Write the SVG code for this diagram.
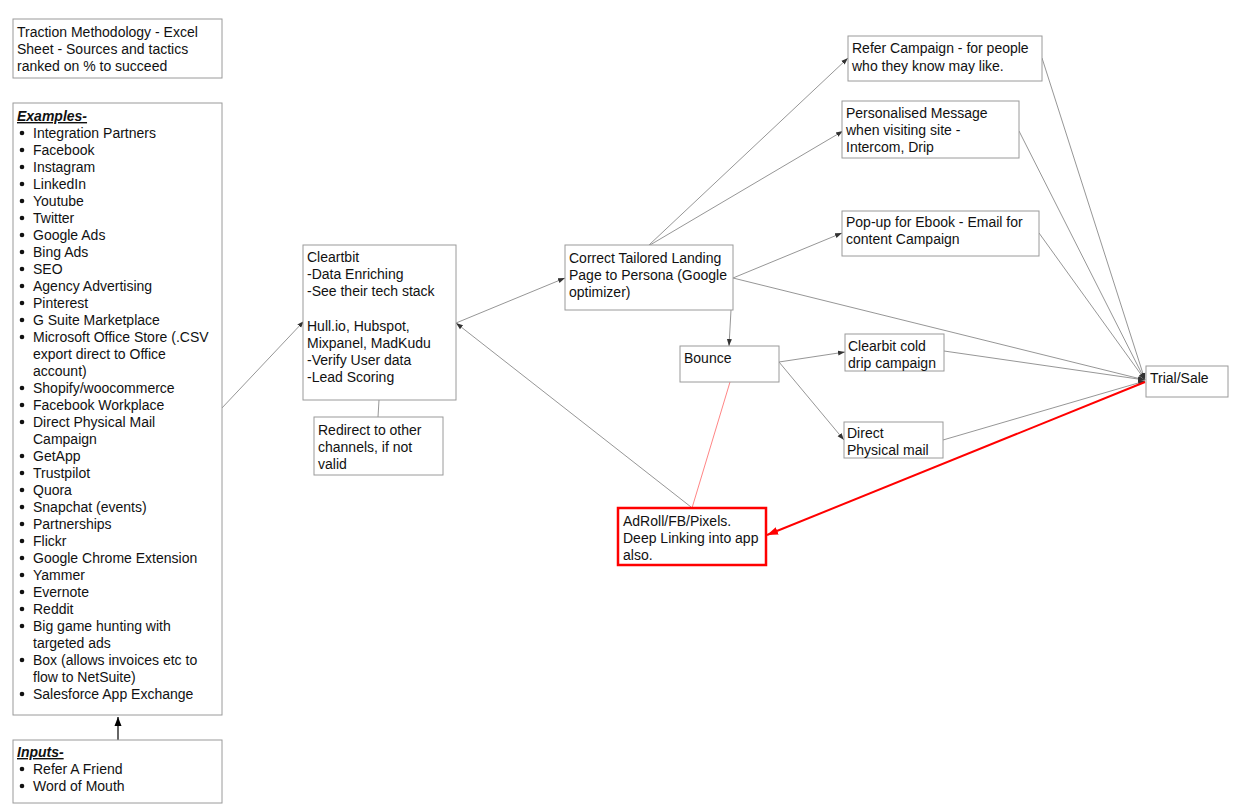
<svg xmlns="http://www.w3.org/2000/svg" width="1254" height="808" viewBox="0 0 1254 808">
<style>
.box{fill:#fff;stroke:#9a9a9a;stroke-width:1}
.red{fill:#fff;stroke:#f00;stroke-width:2.5}
text{font-family:"Liberation Sans",Arial,sans-serif;font-size:14px;fill:#111}
.hd{font-style:italic;font-weight:bold;text-decoration:underline}
.c{fill:none;stroke:#8a8a8a;stroke-width:0.9}
.cr{fill:none;stroke:#f00;stroke-width:2}
.crt{fill:none;stroke:#f77;stroke-width:0.9}
.b{fill:#111}
</style>
<defs>
<marker id="ah" markerUnits="userSpaceOnUse" markerWidth="8" markerHeight="8" viewBox="0 0 8 8" refX="7" refY="4" orient="auto"><path d="M0,1.5 L7,4 L0,6.5 Z" fill="#333"/></marker>
<marker id="ahb" markerUnits="userSpaceOnUse" markerWidth="10" markerHeight="10" viewBox="0 0 10 10" refX="9" refY="5" orient="auto"><path d="M0,1.5 L9,5 L0,8.5 Z" fill="#000"/></marker>
<marker id="ahr" markerUnits="userSpaceOnUse" markerWidth="12" markerHeight="12" viewBox="0 0 12 12" refX="11" refY="6" orient="auto"><path d="M0,2 L11,6 L0,10 Z" fill="#f00"/></marker>
</defs>
<rect width="1254" height="808" fill="#fff"/>

<g id="connectors">
<line class="c" x1="118" y1="740" x2="118" y2="717" style="stroke:#000;stroke-width:1.2" marker-end="url(#ahb)"/>
<line class="c" x1="221" y1="409" x2="304" y2="321" marker-end="url(#ah)"/>
<line class="c" x1="379" y1="400" x2="378" y2="417"/>
<line class="c" x1="456" y1="323" x2="565" y2="278" marker-end="url(#ah)"/>
<line class="c" x1="691" y1="507" x2="456" y2="323" marker-end="url(#ah)"/>
<line class="c" x1="649" y1="245" x2="848" y2="58" marker-end="url(#ah)"/>
<line class="c" x1="650" y1="245" x2="843" y2="131" marker-end="url(#ah)"/>
<line class="c" x1="733" y1="278" x2="842" y2="233" marker-end="url(#ah)"/>
<line class="c" x1="733" y1="278" x2="1145" y2="380" marker-end="url(#ah)"/>
<line class="c" x1="731" y1="310" x2="729" y2="346" marker-end="url(#ah)"/>
<line class="c" x1="779" y1="362" x2="845" y2="352" marker-end="url(#ah)"/>
<line class="c" x1="779" y1="362" x2="844" y2="440" marker-end="url(#ah)"/>
<line class="crt" x1="730" y1="382" x2="692" y2="508"/>
<line class="c" x1="1042" y1="58" x2="1145" y2="380" marker-end="url(#ah)"/>
<line class="c" x1="1019" y1="131" x2="1145" y2="380" marker-end="url(#ah)"/>
<line class="c" x1="1039" y1="233" x2="1145" y2="380" marker-end="url(#ah)"/>
<line class="c" x1="944" y1="351" x2="1145" y2="380" marker-end="url(#ah)"/>
<line class="c" x1="943" y1="440" x2="1145" y2="381" marker-end="url(#ah)"/>
<line class="cr" x1="1145" y1="382" x2="767" y2="535" marker-end="url(#ahr)"/>
</g>

<g id="traction">
<rect class="box" x="13" y="19" width="209" height="59"/>
<text x="17" y="37">Traction Methodology - Excel</text>
<text x="17" y="54">Sheet - Sources and tactics</text>
<text x="17" y="71">ranked on % to succeed</text>
</g>

<g id="examples">
<rect class="box" x="13" y="103" width="209" height="612"/>
<text class="hd" x="17" y="121">Examples-</text>
<g class="b">
<circle cx="22" cy="133" r="2.3"/><circle cx="22" cy="150" r="2.3"/><circle cx="22" cy="167" r="2.3"/><circle cx="22" cy="184" r="2.3"/><circle cx="22" cy="201" r="2.3"/><circle cx="22" cy="218" r="2.3"/><circle cx="22" cy="235" r="2.3"/><circle cx="22" cy="252" r="2.3"/><circle cx="22" cy="269" r="2.3"/><circle cx="22" cy="286" r="2.3"/><circle cx="22" cy="303" r="2.3"/><circle cx="22" cy="320" r="2.3"/><circle cx="22" cy="337" r="2.3"/><circle cx="22" cy="388" r="2.3"/><circle cx="22" cy="405" r="2.3"/><circle cx="22" cy="422" r="2.3"/><circle cx="22" cy="456" r="2.3"/><circle cx="22" cy="473" r="2.3"/><circle cx="22" cy="490" r="2.3"/><circle cx="22" cy="507" r="2.3"/><circle cx="22" cy="524" r="2.3"/><circle cx="22" cy="541" r="2.3"/><circle cx="22" cy="558" r="2.3"/><circle cx="22" cy="575" r="2.3"/><circle cx="22" cy="592" r="2.3"/><circle cx="22" cy="609" r="2.3"/><circle cx="22" cy="626" r="2.3"/><circle cx="22" cy="660" r="2.3"/><circle cx="22" cy="694" r="2.3"/>
</g>
<text x="33" y="138">Integration Partners</text>
<text x="33" y="155">Facebook</text>
<text x="33" y="172">Instagram</text>
<text x="33" y="189">LinkedIn</text>
<text x="33" y="206">Youtube</text>
<text x="33" y="223">Twitter</text>
<text x="33" y="240">Google Ads</text>
<text x="33" y="257">Bing Ads</text>
<text x="33" y="274">SEO</text>
<text x="33" y="291">Agency Advertising</text>
<text x="33" y="308">Pinterest</text>
<text x="33" y="325">G Suite Marketplace</text>
<text x="33" y="342">Microsoft Office Store (.CSV</text>
<text x="33" y="359">export direct to Office</text>
<text x="33" y="376">account)</text>
<text x="33" y="393">Shopify/woocommerce</text>
<text x="33" y="410">Facebook Workplace</text>
<text x="33" y="427">Direct Physical Mail</text>
<text x="33" y="444">Campaign</text>
<text x="33" y="461">GetApp</text>
<text x="33" y="478">Trustpilot</text>
<text x="33" y="495">Quora</text>
<text x="33" y="512">Snapchat (events)</text>
<text x="33" y="529">Partnerships</text>
<text x="33" y="546">Flickr</text>
<text x="33" y="563">Google Chrome Extension</text>
<text x="33" y="580">Yammer</text>
<text x="33" y="597">Evernote</text>
<text x="33" y="614">Reddit</text>
<text x="33" y="631">Big game hunting with</text>
<text x="33" y="648">targeted ads</text>
<text x="33" y="665">Box (allows invoices etc to</text>
<text x="33" y="682">flow to NetSuite)</text>
<text x="33" y="699">Salesforce App Exchange</text>
</g>

<g id="inputs">
<rect class="box" x="13" y="740" width="209" height="63"/>
<text class="hd" x="17" y="757">Inputs-</text>
<circle class="b" cx="22" cy="769" r="2.3"/><circle class="b" cx="22" cy="786" r="2.3"/>
<text x="33" y="774">Refer A Friend</text>
<text x="33" y="791">Word of Mouth</text>
</g>

<g id="cleartbit">
<rect class="box" x="303" y="245" width="153" height="155"/>
<text x="307" y="262">Cleartbit</text>
<text x="307" y="279">-Data Enriching</text>
<text x="307" y="296">-See their tech stack</text>
<text x="307" y="331">Hull.io, Hubspot,</text>
<text x="307" y="348">Mixpanel, MadKudu</text>
<text x="307" y="365">-Verify User data</text>
<text x="307" y="382">-Lead Scoring</text>
</g>

<g id="redirect">
<rect class="box" x="314" y="417" width="129" height="58"/>
<text x="318" y="435">Redirect to other</text>
<text x="318" y="452">channels, if not</text>
<text x="318" y="469">valid</text>
</g>

<g id="landing">
<rect class="box" x="565" y="245" width="168" height="65"/>
<text x="569" y="263">Correct Tailored Landing</text>
<text x="569" y="280">Page to Persona (Google</text>
<text x="569" y="297">optimizer)</text>
</g>

<g id="refer">
<rect class="box" x="848" y="36" width="194" height="45"/>
<text x="852" y="53">Refer Campaign - for people</text>
<text x="852" y="71">who they know may like.</text>
</g>

<g id="personalised">
<rect class="box" x="842" y="101" width="177" height="57"/>
<text x="846" y="118">Personalised Message</text>
<text x="846" y="135">when visiting site -</text>
<text x="846" y="152">Intercom, Drip</text>
</g>

<g id="popup">
<rect class="box" x="842" y="211" width="197" height="45"/>
<text x="846" y="227">Pop-up for Ebook - Email for</text>
<text x="846" y="244">content Campaign</text>
</g>

<g id="bounce">
<rect class="box" x="680" y="346" width="99" height="36"/>
<text x="684" y="363">Bounce</text>
</g>

<g id="clearbitcold">
<rect class="box" x="845" y="334" width="99" height="37"/>
<text x="848" y="351">Clearbit cold</text>
<text x="848" y="368">drip campaign</text>
</g>

<g id="direct">
<rect class="box" x="844" y="422" width="99" height="36"/>
<text x="847" y="438">Direct</text>
<text x="847" y="455">Physical mail</text>
</g>

<g id="trial">
<rect class="box" x="1146" y="366" width="82" height="31"/>
<text x="1150" y="383">Trial/Sale</text>
</g>

<g id="adroll">
<rect class="red" x="618" y="508" width="148" height="57"/>
<text x="623" y="526">AdRoll/FB/Pixels.</text>
<text x="623" y="543">Deep Linking into app</text>
<text x="623" y="560">also.</text>
</g>
</svg>
